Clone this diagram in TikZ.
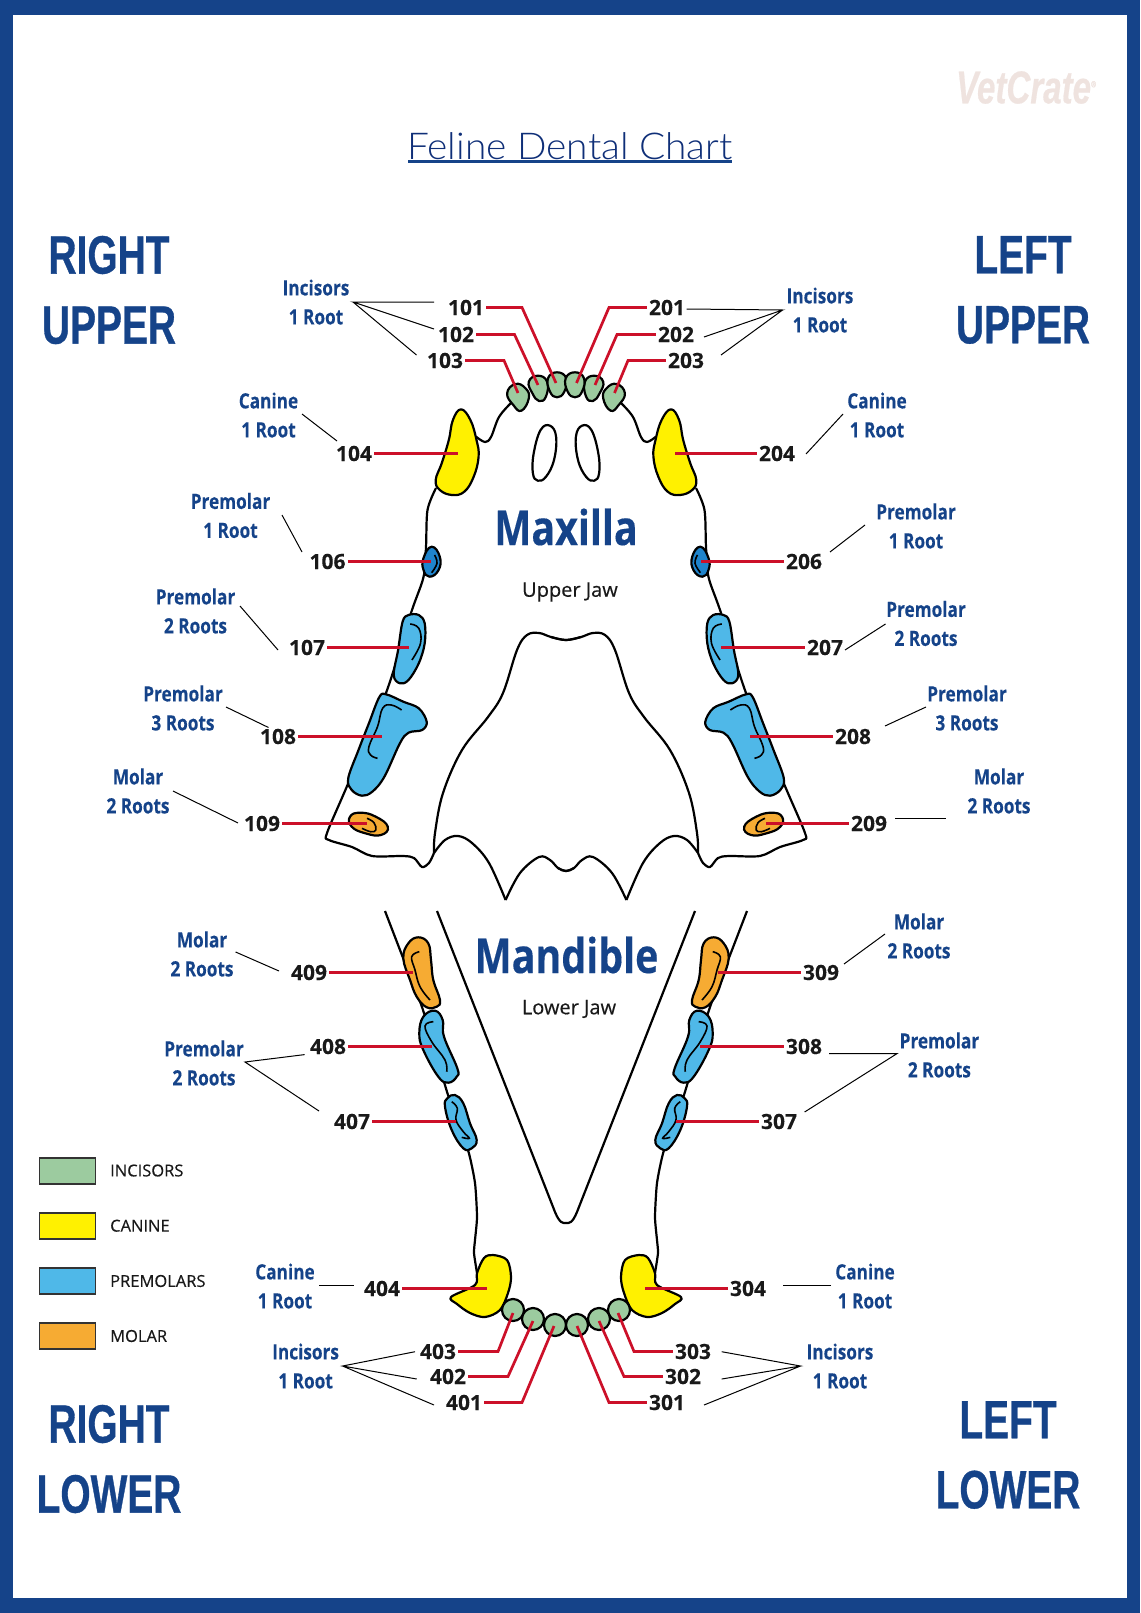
\documentclass[tikz,border=0pt]{standalone}
\usepackage{fontspec}
\usetikzlibrary{positioning}
\newfontfamily\boldsans[FakeStretch=0.82,FakeBold=0.25]{Open Sans Bold}
\newfontfamily\semisans[FakeBold=0.35]{Open Sans}
\newfontfamily\numsans[FakeBold=0.2]{Open Sans Bold}
\newfontfamily\headsans[FakeStretch=0.72,FakeBold=0.6]{Liberation Sans Bold}
\newfontfamily\marksans[FakeStretch=0.72,FakeBold=0.4]{Liberation Sans Bold Italic}
\newfontfamily\titlesans[FakeStretch=1.05]{Lato Light}
\definecolor{chartblue}{HTML}{154389}
\definecolor{titlenavy}{HTML}{0F2F78}
\definecolor{rednum}{HTML}{CC1029}
\definecolor{incisorgreen}{HTML}{9CCB9F}
\definecolor{canineyellow}{HTML}{FFF100}
\definecolor{premolarblue}{HTML}{4FB8E8}
\definecolor{darkblue}{HTML}{1F84CC}
\definecolor{molarorange}{HTML}{F6AB33}
\definecolor{markpink}{HTML}{EFE3DF}
\tikzset{
  tooth/.style={draw=black,line width=2.2pt,line join=round},
  incisor/.style={tooth,fill=incisorgreen},
  canine/.style={tooth,fill=canineyellow},
  premolar/.style={tooth,fill=premolarblue},
  smallpremolar/.style={tooth,fill=darkblue},
  molar/.style={tooth,fill=molarorange},
  rootline/.style={draw=black,line width=1.6pt},
  bone/.style={draw=black,line width=2.2pt,line join=round},
  redline/.style={draw=rednum,line width=2.7pt},
  leader/.style={draw=black,line width=1pt},
  num/.style={inner sep=2pt,text=black!90,font=\numsans\fontsize{21}{21}\selectfont},
  kind/.style={inner sep=0pt,align=center,text=chartblue,font=\boldsans\fontsize{21}{29}\selectfont},
  corner/.style={inner sep=0pt,align=center,text=chartblue,font=\headsans\fontsize{54}{70}\selectfont},
  bigname/.style={inner sep=0pt,text=chartblue,font=\boldsans\fontsize{48}{48}\selectfont},
  jawname/.style={inner sep=0pt,text=black!90,font=\semisans\fontsize{20}{20}\selectfont},
  legendbox/.style={draw=black!80,line width=1.4pt,minimum width=56pt,minimum height=26pt,inner sep=0pt},
  legendtext/.style={inner sep=0pt,anchor=west,text=black!90,font=\semisans\fontsize{16.5}{16.5}\selectfont}
}
\newcommand{\upperside}{%
  % bone
  \draw[bone] plot[smooth,tension=0.6] coordinates {(511,403)(499,417)(491,437)(485,442)(476.5,437)};
  \draw[bone] plot[smooth,tension=0.5] coordinates {(436,488)(427.5,510)(426,547)(423.5,577)(411,613)(386,693)(347.5,785)(327,833)(329,840)(352,847)(372,856)(403,856)(414,858)(422,867)(429,863)(434,853)};
  \draw[bone] plot[smooth,tension=0.6] coordinates {(434,853)(435,833)(443,793)(462,750)(488,717)(503,693)(517,650)(527,635)(539,633)(551,637)(566,640)(581,637)};
  \draw[bone] plot[smooth,tension=0.6] coordinates {(434,853)(445,840)(458,836)(472,843)(489,863)(505.6,900)};
  \draw[bone] plot[smooth,tension=0.6] coordinates {(505.6,900)(520,873)(539,857)(550,860)(558,868)(566,871)(574,868)};
  % nose
  \draw[bone,fill=white] plot[smooth cycle,tension=0.7] coordinates {(550,425.7)(556.1,436.7)(554,460)(546,476.7)(537.8,480.7)(532.9,473.3)(533.7,453.3)(540.6,430)};
  % teeth
  \draw[incisor] plot[smooth cycle,tension=0.8] coordinates {(515.3,384)(525.5,388.3)(528.8,398.3)(521.4,410.7)(513.3,405)(507.1,393.3)};
  \draw[incisor] plot[smooth cycle,tension=0.8] coordinates {(537.8,375.7)(547.1,381.7)(545.9,396.7)(539,401)(532.4,393.3)(528.8,381.7)};
  \draw[incisor] plot[smooth cycle,tension=0.8] coordinates {(557,372.3)(566.3,378.3)(564.3,391.7)(557,397.3)(550,391.7)(548,378.3)};
  \draw[canine] plot[smooth cycle,tension=0.7] coordinates {(461,409.3)(470.4,420)(476.5,440)(478.6,456.7)(473.7,476.7)(464.3,491.7)(452,495)(439.8,490)(435.7,480)(441.8,463)(448.8,440)(452.9,420)};
  \draw[smallpremolar] plot[smooth cycle,tension=0.8] coordinates {(431.6,546.7)(439.8,556.7)(438.6,570)(429.6,576.7)(423.5,570)(423.5,558)};
  \draw[rootline] plot[smooth,tension=0.7] coordinates {(434.5,555)(437,563.3)(431.6,572.7)};
  \draw[premolar] plot[smooth cycle,tension=0.6] coordinates {(418.8,615)(424.7,623.3)(424.7,643.3)(418.8,663.3)(408.5,680)(399.9,683.3)(393.7,675)(398.1,650)(402.6,621.7)(408.5,615)};
  \draw[rootline] plot[smooth,tension=0.7] coordinates {(410.2,624)(418.8,628.3)(420.5,643.3)(411.9,660)};
  \draw[premolar] plot[smooth cycle,tension=0.6] coordinates {(386,694.3)(403.3,701.7)(418.8,708.3)(426.7,721.7)(422.2,730)(408.5,732.7)(399.9,743.3)(384.4,776.7)(372.3,791.7)(362,795.7)(351.7,790)(348.2,778.3)(358.5,750)(368.9,723.3)(379.2,697.3)};
  \draw[rootline] plot[smooth,tension=0.7] coordinates {(401.6,710)(391.3,705)(382.6,708.3)(377.5,726.7)(368.9,746.7)(370.6,755)(377.5,758.3)};
  \draw[molar] plot[smooth cycle,tension=0.8] coordinates {(350,816.7)(360.3,812.7)(375.8,816.7)(387.8,826.7)(381,835)(365.4,833.3)(351.7,826.7)};
  \draw[rootline] plot[smooth,tension=0.7] coordinates {(367,818.3)(374,822.7)(375.8,830)(370.6,831.7)(362,828.3)};
}
\newcommand{\lowerside}{%
  % bone
  \draw[bone] plot[smooth,tension=0.35] coordinates {(385,911)(405,963)(423,1010)(448,1095)(468,1150)(475,1183)(477,1217)(475,1240)(474,1253)(477,1273)};
  \draw[bone] (437,911) -- (555,1212) .. controls (560,1224) and (563,1223) .. (566,1223);
  % teeth
  \draw[molar] plot[smooth cycle,tension=0.7] coordinates {(418.3,937.3)(428.3,943.3)(431,960)(433.3,980)(440,1000)(436.7,1006.7)(426.7,1007.3)(416.7,996.7)(410,980)(403.3,958.3)(408.3,943.3)};
  \draw[rootline] plot[smooth,tension=0.7] coordinates {(419.3,951.7)(411.7,956.7)(415,970)(420,986.7)(430,1000)};
  \draw[premolar] plot[smooth cycle,tension=0.7] coordinates {(435,1010.7)(442.7,1020)(444,1036.7)(457.3,1068.3)(456.7,1076.7)(448.3,1082.7)(438.3,1076.7)(423.3,1050)(419.3,1033.3)(423.3,1016.7)};
  \draw[rootline] plot[smooth,tension=0.7] coordinates {(433.3,1021.7)(425,1026)(431.7,1041.7)(445,1060)(446.7,1071.7)};
  \draw[premolar] plot[smooth cycle,tension=0.7] coordinates {(455,1095)(463.3,1103.3)(470,1123.3)(476.7,1140)(471.7,1148.3)(463.3,1148.3)(451.7,1130)(445,1106.7)(447.3,1098.3)};
  \draw[rootline] plot[smooth,tension=0.7] coordinates {(451.7,1101.7)(457.3,1108.3)(456,1120)(463.3,1131.7)(469.3,1138.3)(461.7,1137.3)};
  \draw[canine] plot[smooth cycle,tension=0.55] coordinates {(451,1297)(475,1285)(477,1273)(484,1258)(493,1255)(507,1260)(511,1277)(508,1293)(500,1310)(485,1317)(470,1313)(457,1304)};
  \draw[incisor] (513,1310) circle (11);
  \draw[incisor] (533,1319) circle (11);
  \draw[incisor] (555,1325) circle (11);
}
\begin{document}
\begin{tikzpicture}[x=1pt,y=-1pt]
  \fill[chartblue] (0,0) rectangle (1140,1613);
  \fill[white] (13,15) rectangle (1127,1598);
  \node[inner sep=0pt,text=markpink,font=\marksans\fontsize{46}{46}\selectfont] (mark) at (1026,87.5) {VetCrate\raisebox{16pt}{\fontsize{9}{9}\selectfont ®}};
  \node[inner sep=0pt,text=titlenavy,font=\titlesans\fontsize{37}{37}\selectfont] (title) at (570,146) {Feline Dental Chart};
  \fill[chartblue] (408,160) rectangle (732,163);

  % jaws
  \upperside
  \begin{scope}[xshift=1132pt,xscale=-1]
    \upperside
  \end{scope}
  \lowerside
  \begin{scope}[xshift=1132pt,xscale=-1]
    \lowerside
  \end{scope}

  % corners
  \node[corner] (ru) at (109,290) {RIGHT\\UPPER};
  \node[corner] (lu) at (1023,290) {LEFT\\UPPER};
  \node[corner] (rl) at (109,1459) {RIGHT\\LOWER};
  \node[corner] (ll) at (1008,1455) {LEFT\\LOWER};

  \node[bigname] (maxilla) at (566,527) {Maxilla};
  \node[jawname] (upperjaw) at (570,592) {Upper Jaw};
  \node[bigname] (mandible) at (566.5,955) {Mandible};
  \node[jawname] (lowerjaw) at (569,1009) {Lower Jaw};

  % tooth numbers
  \node[num] (101) at (466,307.5) {101};
  \node[num] (102) at (456,334.5) {102};
  \node[num] (103) at (445,360.5) {103};
  \node[num] (104) at (354,453.5) {104};
  \node[num] (106) at (327.5,561.5) {106};
  \node[num] (107) at (307,647.5) {107};
  \node[num] (108) at (278,736.5) {108};
  \node[num] (109) at (262,823.5) {109};
  \node[num] (201) at (667,307.5) {201};
  \node[num] (202) at (676,334.5) {202};
  \node[num] (203) at (686,360.5) {203};
  \node[num] (204) at (777,453.5) {204};
  \node[num] (206) at (804,561.5) {206};
  \node[num] (207) at (825,647.5) {207};
  \node[num] (208) at (853,736.5) {208};
  \node[num] (209) at (869,823.5) {209};
  \node[num] (301) at (667,1402.5) {301};
  \node[num] (302) at (683,1376.5) {302};
  \node[num] (303) at (693,1351.5) {303};
  \node[num] (304) at (748,1288.5) {304};
  \node[num] (307) at (779,1121.5) {307};
  \node[num] (308) at (804,1046.5) {308};
  \node[num] (309) at (821,972.5) {309};
  \node[num] (401) at (464,1402.5) {401};
  \node[num] (402) at (448,1376.5) {402};
  \node[num] (403) at (438,1351.5) {403};
  \node[num] (404) at (382,1288.5) {404};
  \node[num] (407) at (352,1121.5) {407};
  \node[num] (408) at (328,1046.5) {408};
  \node[num] (409) at (309,972.5) {409};

  % tooth kinds
  \node[kind] (k10x) at (316,302) {Incisors\\1 Root};
  \node[kind] (k104) at (268.5,415) {Canine\\1 Root};
  \node[kind] (k106) at (230.5,515.5) {Premolar\\1 Root};
  \node[kind] (k107) at (195.5,611) {Premolar\\2 Roots};
  \node[kind] (k108) at (183,708) {Premolar\\3 Roots};
  \node[kind] (k109) at (138,791) {Molar\\2 Roots};
  \node[kind] (k20x) at (820,310) {Incisors\\1 Root};
  \node[kind] (k204) at (877,415) {Canine\\1 Root};
  \node[kind] (k206) at (916,526) {Premolar\\1 Root};
  \node[kind] (k207) at (926,623.5) {Premolar\\2 Roots};
  \node[kind] (k208) at (967,708) {Premolar\\3 Roots};
  \node[kind] (k209) at (999,791) {Molar\\2 Roots};
  \node[kind] (k309) at (919,936) {Molar\\2 Roots};
  \node[kind] (k30x) at (939.4,1055) {Premolar\\2 Roots};
  \node[kind] (k304) at (865,1286) {Canine\\1 Root};
  \node[kind] (k3in) at (840,1366) {Incisors\\1 Root};
  \node[kind] (k409) at (202,954) {Molar\\2 Roots};
  \node[kind] (k40x) at (204,1063) {Premolar\\2 Roots};
  \node[kind] (k404) at (285,1286) {Canine\\1 Root};
  \node[kind] (k4in) at (305.6,1366) {Incisors\\1 Root};

  % ends of the red lines
  \coordinate (b101) at (522,307.5);   \coordinate (t101) at (556,383);
  \coordinate (b102) at (514.5,334.5); \coordinate (t102) at (538,385);
  \coordinate (b103) at (504,360.5);   \coordinate (t103) at (518,393);
  \coordinate (b201) at (609,307.5);   \coordinate (t201) at (576.5,383);
  \coordinate (b202) at (617,334.5);   \coordinate (t202) at (595,385);
  \coordinate (b203) at (628,360.5);   \coordinate (t203) at (614.5,393);
  \coordinate (b301) at (609,1402.5);  \coordinate (t301) at (577,1326);
  \coordinate (b302) at (624,1376.5);  \coordinate (t302) at (599,1321);
  \coordinate (b303) at (634,1351.5);  \coordinate (t303) at (618,1313);
  \coordinate (b401) at (522,1402.5);  \coordinate (t401) at (554,1326);
  \coordinate (b402) at (508,1376.5);  \coordinate (t402) at (533,1321);
  \coordinate (b403) at (498,1351.5);  \coordinate (t403) at (513,1313);
  \coordinate (t104) at (458,453.5);
  \coordinate (t106) at (431,561.5);
  \coordinate (t107) at (409,647.5);
  \coordinate (t108) at (381.6,736.5);
  \coordinate (t109) at (366.5,823.5);
  \coordinate (t204) at (674.5,453.5);
  \coordinate (t206) at (701,561.5);
  \coordinate (t207) at (721.4,647.5);
  \coordinate (t208) at (750,736.5);
  \coordinate (t209) at (765.5,823.5);
  \coordinate (t304) at (645,1288.5);
  \coordinate (t307) at (676,1121.5);
  \coordinate (t308) at (700,1046.5);
  \coordinate (t309) at (718,972.5);
  \coordinate (t404) at (487,1288.5);
  \coordinate (t407) at (456,1121.5);
  \coordinate (t408) at (432,1046.5);
  \coordinate (t409) at (413,972.5);

  \draw[redline] (101) -- (b101) -- (t101);
  \draw[redline] (102) -- (b102) -- (t102);
  \draw[redline] (103) -- (b103) -- (t103);
  \draw[redline] (201) -- (b201) -- (t201);
  \draw[redline] (202) -- (b202) -- (t202);
  \draw[redline] (203) -- (b203) -- (t203);
  \draw[redline] (301) -- (b301) -- (t301);
  \draw[redline] (302) -- (b302) -- (t302);
  \draw[redline] (303) -- (b303) -- (t303);
  \draw[redline] (401) -- (b401) -- (t401);
  \draw[redline] (402) -- (b402) -- (t402);
  \draw[redline] (403) -- (b403) -- (t403);
  \path[redline]
    (104) edge (t104)
    (106) edge (t106)
    (107) edge (t107)
    (108) edge (t108)
    (109) edge (t109)
    (204) edge (t204)
    (206) edge (t206)
    (207) edge (t207)
    (208) edge (t208)
    (209) edge (t209)
    (304) edge (t304)
    (307) edge (t307)
    (308) edge (t308)
    (309) edge (t309)
    (404) edge (t404)
    (407) edge (t407)
    (408) edge (t408)
    (409) edge (t409);

  % ends of the thin lines
  \coordinate (h10x) at (353,302);
  \coordinate (e101) at (434,302);
  \coordinate (e102) at (434,329);
  \coordinate (e103) at (416.5,355);
  \coordinate (h20x) at (782.6,310);
  \coordinate (e201) at (686.7,309);
  \coordinate (e202) at (704,337);
  \coordinate (e203) at (721,355);
  \coordinate (h40x) at (245,1062);
  \coordinate (e408) at (304.6,1054.6);
  \coordinate (e407) at (319,1111);
  \coordinate (h30x) at (897,1053.6);
  \coordinate (e308) at (829,1053.6);
  \coordinate (e307) at (804.6,1112);
  \coordinate (h4in) at (342.6,1366);
  \coordinate (e403) at (415,1351.7);
  \coordinate (e402) at (416.7,1379);
  \coordinate (e401) at (434,1405);
  \coordinate (h3in) at (800.5,1366);
  \coordinate (e303) at (721.7,1351.7);
  \coordinate (e302) at (721.7,1379);
  \coordinate (e301) at (704,1405);

  \draw[leader] (e101) -- (h10x) -- (e102) (h10x) -- (e103);
  \draw[leader] (e201) -- (h20x) -- (e202) (h20x) -- (e203);
  \draw[leader] (e408) -- (h40x) -- (e407);
  \draw[leader] (e308) -- (h30x) -- (e307);
  \draw[leader] (e403) -- (h4in) -- (e402) (h4in) -- (e401);
  \draw[leader] (e303) -- (h3in) -- (e302) (h3in) -- (e301);

  \coordinate (a104) at (302,414);    \coordinate (c104) at (337,441);
  \coordinate (a204) at (843,414);    \coordinate (c204) at (806,454);
  \coordinate (a106) at (282,515);    \coordinate (c106) at (302,552);
  \coordinate (a206) at (865,525);    \coordinate (c206) at (830,552);
  \coordinate (a107) at (240,606);    \coordinate (c107) at (278,650);
  \coordinate (a207) at (885.5,624);  \coordinate (c207) at (845,650);
  \coordinate (a108) at (226,707);    \coordinate (c108) at (268.5,727.5);
  \coordinate (a208) at (926,707);    \coordinate (c208) at (885,726);
  \coordinate (a109) at (173,791);    \coordinate (c109) at (238,823);
  \coordinate (a209) at (945.5,818);  \coordinate (c209) at (895,818);
  \coordinate (a409) at (235.6,952);  \coordinate (c409) at (279,971);
  \coordinate (a309) at (885,934);    \coordinate (c309) at (844,964);
  \coordinate (a404) at (319,1285);   \coordinate (c404) at (354,1285);
  \coordinate (a304) at (831,1285);   \coordinate (c304) at (783,1285);

  \path[leader]
    (a104) edge (c104)
    (a204) edge (c204)
    (a106) edge (c106)
    (a206) edge (c206)
    (a107) edge (c107)
    (a207) edge (c207)
    (a108) edge (c108)
    (a208) edge (c208)
    (a109) edge (c109)
    (a209) edge (c209)
    (a409) edge (c409)
    (a309) edge (c309)
    (a404) edge (c404)
    (a304) edge (c304);

  % legend
  \node[legendbox,fill=incisorgreen] (boxinc) at (67.5,1171) {};
  \node[legendbox,fill=canineyellow] (boxcan) at (67.5,1226) {};
  \node[legendbox,fill=premolarblue] (boxpre) at (67.5,1281) {};
  \node[legendbox,fill=molarorange] (boxmol) at (67.5,1336) {};
  \node[legendtext] (txtinc) at (110,1170.5) {INCISORS};
  \node[legendtext] (txtcan) at (110,1225.7) {CANINE};
  \node[legendtext] (txtpre) at (110,1281) {PREMOLARS};
  \node[legendtext] (txtmol) at (110,1336) {MOLAR};
\end{tikzpicture}
\end{document}
